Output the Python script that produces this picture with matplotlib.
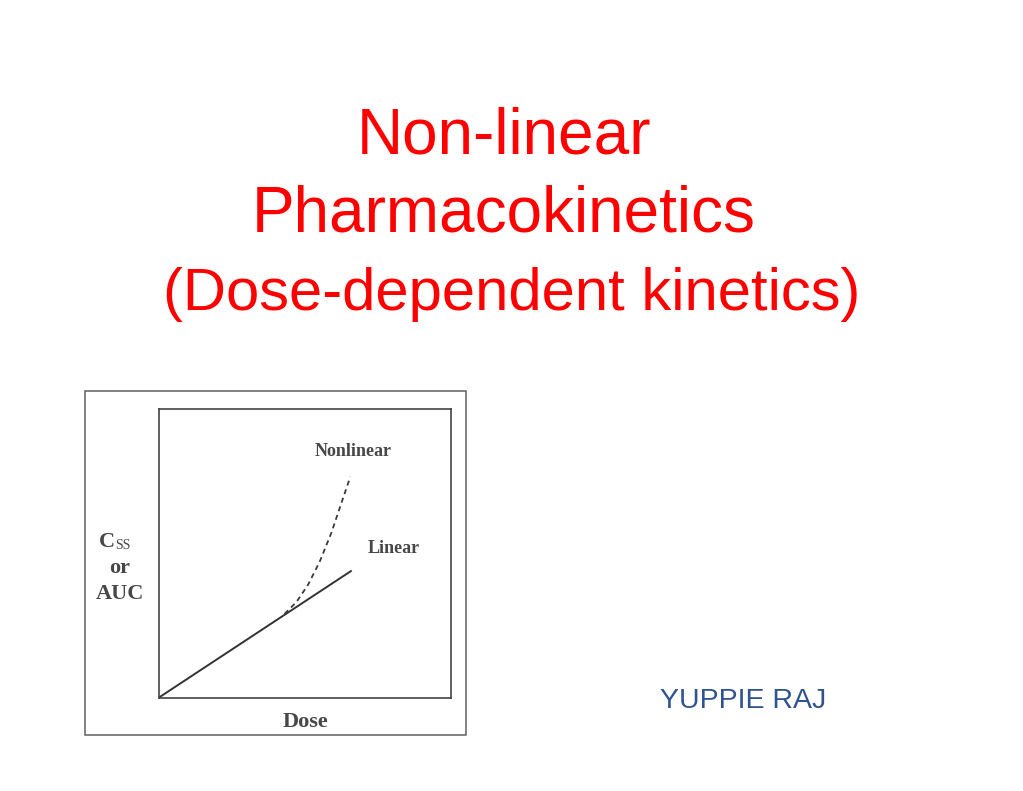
import matplotlib

matplotlib.use("Agg")
import matplotlib.pyplot as plt
from matplotlib.patches import Rectangle

# chart values (inner plot in unit coordinates)
linear_x = [0.0, 0.66]
linear_y = [0.0, 0.44]
nonlinear_x = [0.43, 0.47, 0.51, 0.55, 0.59, 0.63, 0.655]
nonlinear_y = [0.29, 0.33, 0.39, 0.47, 0.57, 0.69, 0.765]

title_lines = ["Non-linear", "Pharmacokinetics", "(Dose-dependent kinetics)"]
author = "YUPPIE RAJ"

W, H = 1023, 791
RED = "#FF0000"
INK = "#474747"
SANS = ["Liberation Sans", "DejaVu Sans"]
SERIF = ["Liberation Serif", "DejaVu Serif"]

fig = plt.figure(figsize=(W / 100, H / 100), dpi=100)
fig.patch.set_facecolor("white")

# background axes in pixel coordinates for slide text
bg = fig.add_axes([0, 0, 1, 1])
bg.set_xlim(0, W)
bg.set_ylim(H, 0)
bg.axis("off")

bg.text(504.5, 154, title_lines[0], color=RED, fontsize=46, family=SANS,
        ha="center", va="baseline")
bg.text(503.5, 232, title_lines[1], color=RED, fontsize=46, family=SANS,
        ha="center", va="baseline")
bg.text(511.5, 310, title_lines[2], color=RED, fontsize=43, family=SANS,
        ha="center", va="baseline")

bg.text(660, 708, author, color="#2E5390", fontsize=20.5, family=SANS,
        ha="left", va="baseline")

# scanned figure frame
bg.add_patch(Rectangle((85, 390.5), 381, 344, fill=False, edgecolor="#606060", lw=1.1))

# axis labels of the scanned figure
bg.text(115, 547, "C", color=INK, fontsize=16, family=SERIF, weight="bold",
        ha="right", va="baseline")
bg.text(115, 549, "SS", color=INK, fontsize=10, family=SERIF,
        ha="left", va="baseline")
bg.text(120, 573, "or", color=INK, fontsize=16, family=SERIF, weight="bold",
        ha="center", va="baseline")
bg.text(119.5, 599, "AUC", color=INK, fontsize=16, family=SERIF, weight="bold",
        ha="center", va="baseline")
bg.text(305.5, 727, "Dose", color=INK, fontsize=16, family=SERIF, weight="bold",
        ha="center", va="baseline")
bg.text(353.5, 456, "Nonlinear", color=INK, fontsize=13, family=SERIF, weight="bold",
        ha="center", va="baseline")
bg.text(394, 553, "Linear", color=INK, fontsize=13, family=SERIF, weight="bold",
        ha="center", va="baseline")

# inner plot
ax = fig.add_axes([159 / W, 1 - 697.5 / H, 292 / W, 288.5 / H])
ax.set_xlim(0, 1)
ax.set_ylim(0, 1)
ax.set_xticks([])
ax.set_yticks([])
ax.patch.set_alpha(0)
for spine in ax.spines.values():
    spine.set_color("#444444")
    spine.set_linewidth(1.2)

ax.plot(linear_x, linear_y, color="#333333", lw=1.4, solid_capstyle="butt")
ax.plot(nonlinear_x, nonlinear_y, color="#3a3a3a", lw=1.3, linestyle=(0, (2.8, 2.2)))

fig.savefig("out.png", dpi=100, facecolor="white")
